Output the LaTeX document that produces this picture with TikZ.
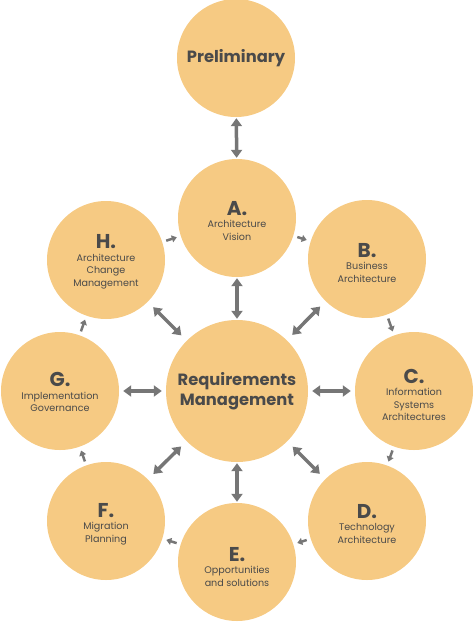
\documentclass[tikz,border=0pt]{standalone}
\usepackage{fontspec}
\setmainfont{Poppins}
\usetikzlibrary{arrows.meta,calc}
\definecolor{stagefill}{RGB}{246,202,131}
\definecolor{txt}{RGB}{74,74,74}
\definecolor{arr}{RGB}{118,118,118}
\newcommand\stg[2]{{\fontsize{20}{22}\selectfont\bfseries #1}\\[0pt]#2}
\begin{document}
\begin{tikzpicture}[x=1pt,y=-1pt,
  stage/.style={circle,fill=stagefill,draw=none,minimum size=118pt,inner sep=0pt},
  bigstage/.style={stage,minimum size=142pt},
  lbl/.style={align=center,text=txt,inner sep=0pt,font=\fontsize{9.6}{12.5}\selectfont},
  title/.style={align=center,text=txt,inner sep=0pt,font=\fontsize{16.3}{19.5}\selectfont\bfseries},
  dbl/.style={draw=arr,line width=3.5pt,{Triangle[width=11pt,length=8pt]}-{Triangle[width=11pt,length=8pt]}},
  sgl/.style={draw=arr,line width=2.5pt,-{Triangle[width=7pt,length=5pt]},shorten <=4pt,shorten >=4pt},
]
\useasboundingbox (0,0) rectangle (474,622);
% circles
\node[stage] (P) at (236,58) {};
\node[stage] (A) at (237,218) {};
\node[stage] (B) at (367,259) {};
\node[stage] (C) at (414,391) {};
\node[stage] (D) at (367,521) {};
\node[stage] (E) at (237,562) {};
\node[stage] (F) at (106,521) {};
\node[stage] (G) at (60,391) {};
\node[stage] (H) at (106,260) {};
\node[bigstage] (R) at (237,391) {};
% texts
\node[title] (Pt) at (P) {Preliminary};
\node[title] (Rt) at (R) {Requirements\\Management};
\node[lbl] (At) at ($(A)+(0,3)$) {\stg{A.}{Architecture\\Vision}};
\node[lbl] (Bt) at ($(B)+(0,4)$) {\stg{B.}{Business\\Architecture}};
\node[lbl] (Ct) at ($(C)+(0,4)$) {\stg{C.}{Information\\Systems\\Architectures}};
\node[lbl] (Dt) at ($(D)+(0,3)$) {\stg{D.}{Technology\\Architecture}};
\node[lbl] (Et) at ($(E)+(0,5)$) {\stg{E.}{Opportunities\\and solutions}};
\node[lbl] (Ft) at ($(F)+(0,3)$) {\stg{F.}{Migration\\Planning}};
\node[lbl] (Gt) at ($(G)+(0,1)$) {\stg{G.}{Implementation\\Governance}};
\node[lbl] (Ht) at ($(H)+(0,2)$) {\stg{H.}{Architecture\\Change\\Management}};
% double arrows
\draw[dbl,shorten <=1pt,shorten >=1pt] (P) -- (A);
\draw[dbl,shorten <=1pt,shorten >=1pt] (A) -- (R);
\draw[dbl,shorten <=1pt,shorten >=1pt] (R) -- (E);
\draw[dbl,shorten <=4pt,shorten >=4pt] (G) -- (R);
\draw[dbl,shorten <=4pt,shorten >=4pt] (R) -- (C);
\draw[dbl,shorten <=7.5pt,shorten >=7.5pt] (H) -- (R);
\draw[dbl,shorten <=7.5pt,shorten >=7.5pt] (B) -- (R);
\draw[dbl,shorten <=7.5pt,shorten >=7.5pt] (D) -- (R);
\draw[dbl,shorten <=7.5pt,shorten >=7.5pt] (F) -- (R);
% cycle arrows
\draw[sgl] (H) -- (A);
\draw[sgl] (A) -- (B);
\draw[sgl] (B) -- (C);
\draw[sgl] (C) -- (D);
\draw[sgl] (D) -- (E);
\draw[sgl] (E) -- (F);
\draw[sgl] (F) -- (G);
\draw[sgl] (G) -- (H);
\end{tikzpicture}
\end{document}
